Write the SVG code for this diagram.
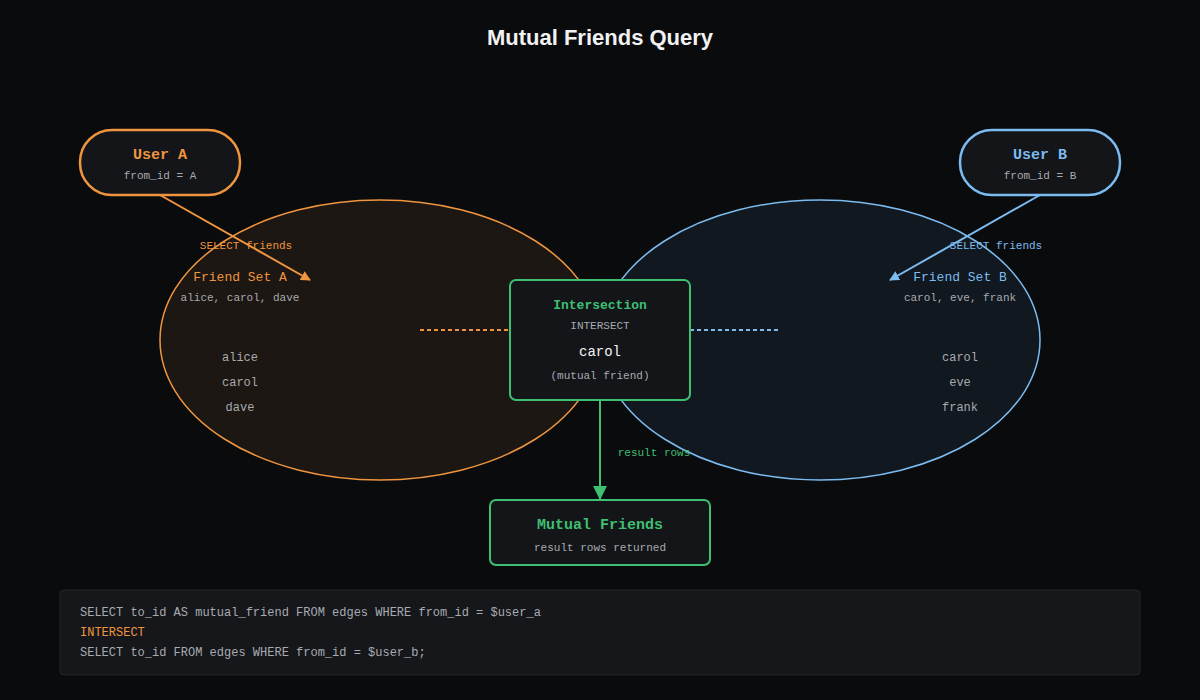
<svg xmlns="http://www.w3.org/2000/svg" width="1200" height="700" viewBox="0 0 1200 700">
<defs>
<style>
.m{font-family:"Liberation Mono","DejaVu Sans Mono",monospace;text-anchor:middle}
.t{font-family:"Liberation Sans",Arial,sans-serif;font-weight:bold;text-anchor:middle}
.g{fill:#a8abb0}
</style>
<marker id="ao" markerWidth="10" markerHeight="10" refX="9" refY="5" orient="auto" markerUnits="userSpaceOnUse" viewBox="0 0 10 10"><path d="M0,0 L10,5 L0,10 z" fill="#f0953f"/></marker>
<marker id="ab" markerWidth="10" markerHeight="10" refX="9" refY="5" orient="auto" markerUnits="userSpaceOnUse" viewBox="0 0 10 10"><path d="M0,0 L10,5 L0,10 z" fill="#7cbcf0"/></marker>
<marker id="ag" markerWidth="14" markerHeight="14" refX="13" refY="7" orient="auto" markerUnits="userSpaceOnUse" viewBox="0 0 14 14"><path d="M0,0 L14,7 L0,14 z" fill="#3fbf72"/></marker>
</defs>
<rect width="1200" height="700" fill="#0a0b0d"/>
<text x="600" y="45" class="t" font-size="22" fill="#f2f2f2">Mutual Friends Query</text>
<g id="setA"><ellipse cx="380" cy="340" rx="220" ry="140" fill="#1c1712" stroke="#f0953f" stroke-width="1.5"/>
<text x="240" y="281" class="m" font-size="13" fill="#f0953f">Friend Set A</text>
<text x="240" y="301" class="m g" font-size="11">alice, carol, dave</text>
<text x="240" y="361" class="m g" font-size="12">alice</text>
<text x="240" y="386" class="m g" font-size="12">carol</text>
<text x="240" y="411" class="m g" font-size="12">dave</text></g>
<g id="setB"><ellipse cx="820" cy="340" rx="220" ry="140" fill="#111820" stroke="#7cbcf0" stroke-width="1.5"/>
<text x="960" y="281" class="m" font-size="13" fill="#7cbcf0">Friend Set B</text>
<text x="960" y="301" class="m g" font-size="11">carol, eve, frank</text>
<text x="960" y="361" class="m g" font-size="12">carol</text>
<text x="960" y="386" class="m g" font-size="12">eve</text>
<text x="960" y="411" class="m g" font-size="12">frank</text></g>
<g id="connectors">
<line x1="160" y1="195" x2="310" y2="280" stroke="#f0953f" stroke-width="2" marker-end="url(#ao)"/>
<text x="246" y="249" class="m" font-size="11" fill="#f0953f">SELECT friends</text>
<line x1="1040" y1="195" x2="890" y2="280" stroke="#7cbcf0" stroke-width="2" marker-end="url(#ab)"/>
<text x="996" y="249" class="m" font-size="11" fill="#7cbcf0">SELECT friends</text>
<line x1="420" y1="330" x2="510" y2="330" stroke="#f0953f" stroke-width="2" stroke-dasharray="4 3"/>
<line x1="690" y1="330" x2="780" y2="330" stroke="#7cbcf0" stroke-width="2" stroke-dasharray="4 3"/>
<line x1="600" y1="400" x2="600" y2="499" stroke="#3fbf72" stroke-width="2" marker-end="url(#ag)"/>
<text x="654" y="456" class="m" font-size="11" fill="#3fbf72">result rows</text>
</g>
<g id="userA"><rect x="80" y="130" width="160" height="65" rx="32" fill="#131519" stroke="#f0953f" stroke-width="2.5"/>
<text x="160" y="159" class="m" font-size="15" font-weight="bold" fill="#f0953f">User A</text>
<text x="160" y="179" class="m g" font-size="11">from_id = A</text></g>
<g id="userB"><rect x="960" y="130" width="160" height="65" rx="32" fill="#131519" stroke="#7cbcf0" stroke-width="2.5"/>
<text x="1040" y="159" class="m" font-size="15" font-weight="bold" fill="#7cbcf0">User B</text>
<text x="1040" y="179" class="m g" font-size="11">from_id = B</text></g>
<g id="intersection"><rect x="510" y="280" width="180" height="120" rx="6" fill="#131519" stroke="#3fbf72" stroke-width="2"/>
<text x="600" y="309" class="m" font-size="13" font-weight="bold" fill="#3fbf72">Intersection</text>
<text x="600" y="329" class="m g" font-size="11">INTERSECT</text>
<text x="600" y="356" class="m" font-size="14" fill="#f2f2f2">carol</text>
<text x="600" y="379" class="m g" font-size="11">(mutual friend)</text></g>
<g id="mutual"><rect x="490" y="500" width="220" height="65" rx="6" fill="#131519" stroke="#3fbf72" stroke-width="2"/>
<text x="600" y="529" class="m" font-size="15" font-weight="bold" fill="#3fbf72">Mutual Friends</text>
<text x="600" y="551" class="m g" font-size="11">result rows returned</text></g>
<g id="code"><rect x="60" y="590" width="1080" height="85" rx="4" fill="#15171b" stroke="#22252a"/>
<text x="80" y="616" font-family="Liberation Mono,monospace" font-size="12" class="g">SELECT to_id AS mutual_friend FROM edges WHERE from_id = $user_a</text>
<text x="80" y="636" font-family="Liberation Mono,monospace" font-size="12" fill="#f0953f">INTERSECT</text>
<text x="80" y="656" font-family="Liberation Mono,monospace" font-size="12" class="g">SELECT to_id FROM edges WHERE from_id = $user_b;</text></g>
</svg>
